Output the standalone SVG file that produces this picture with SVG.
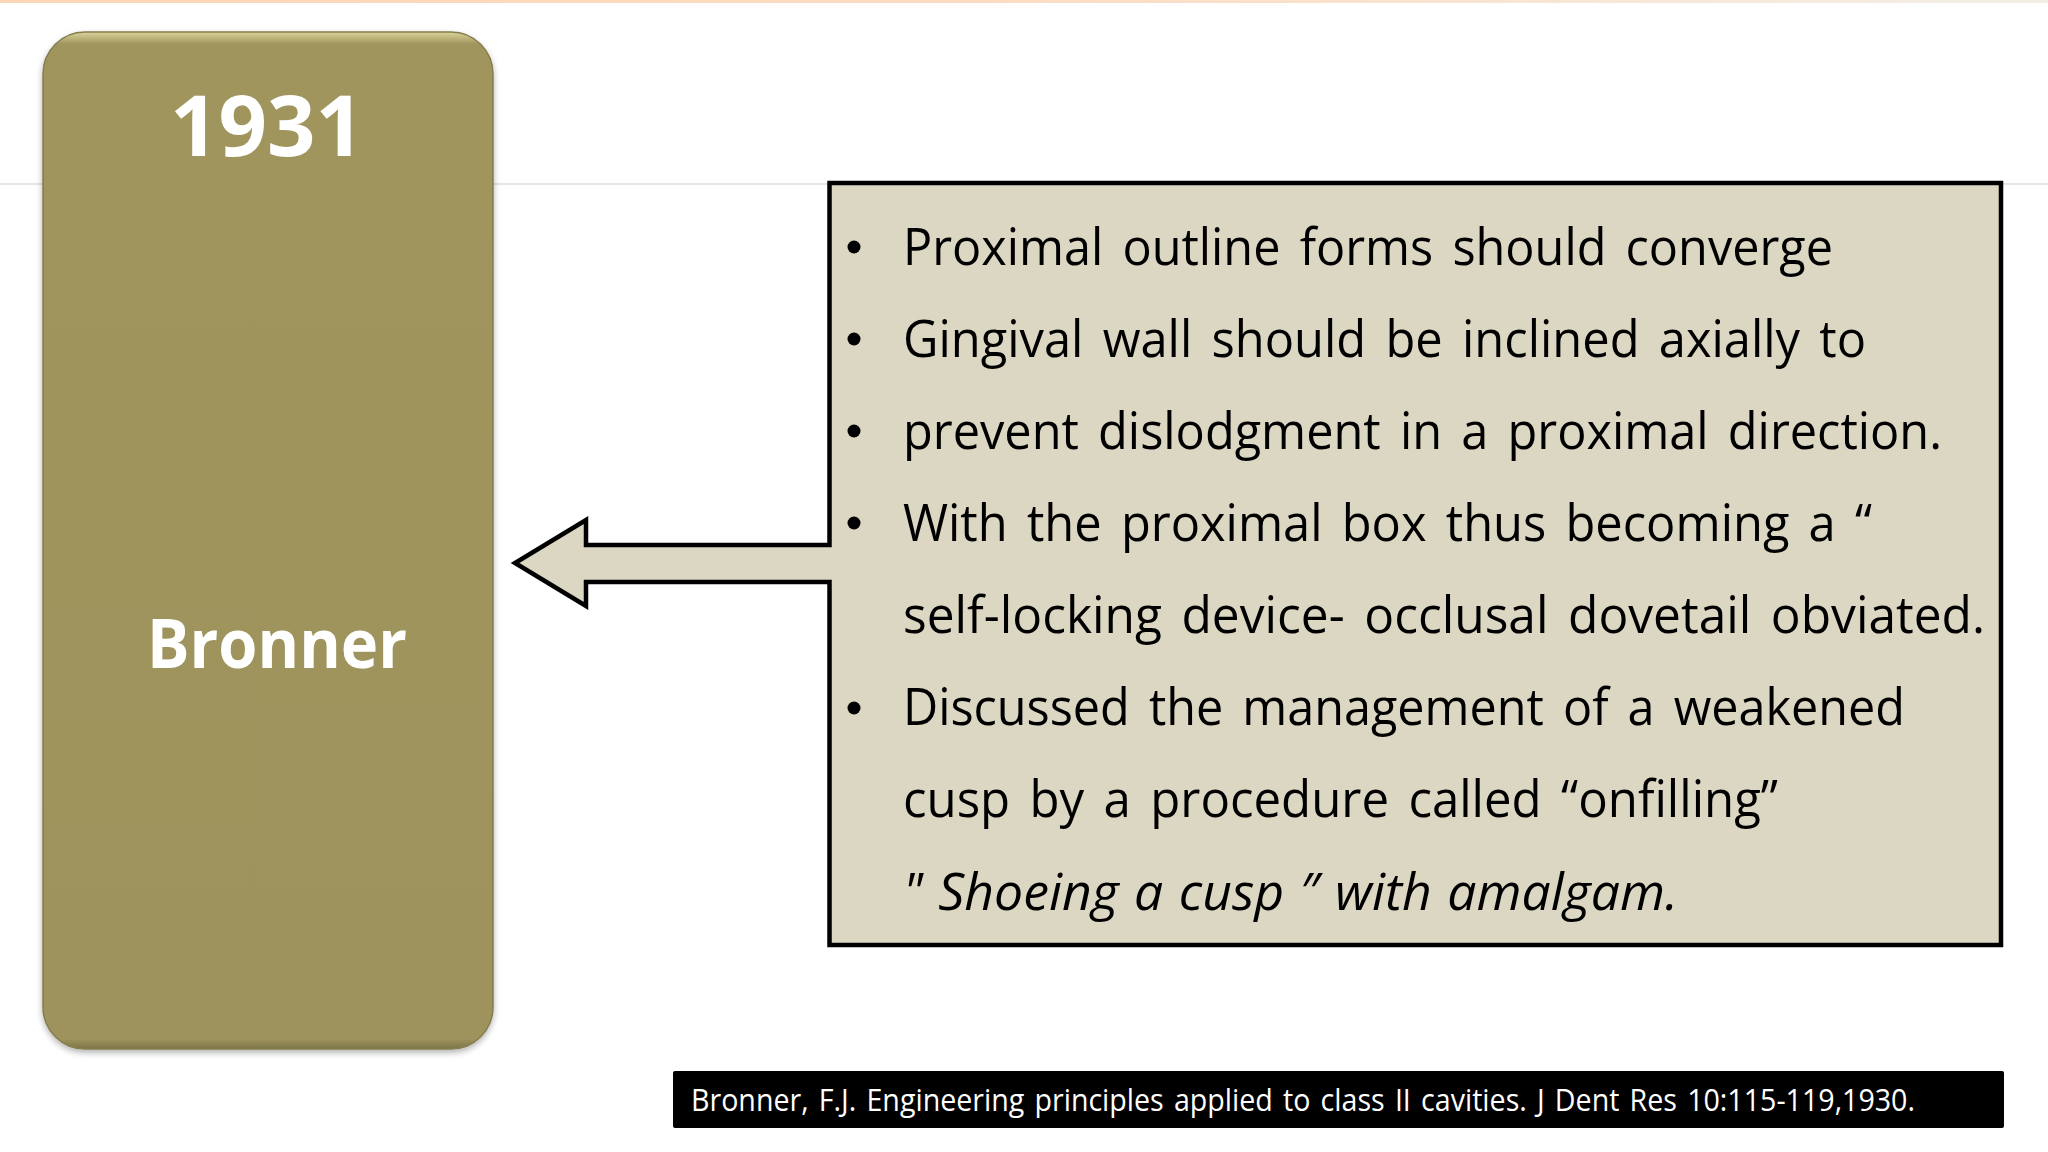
<svg xmlns="http://www.w3.org/2000/svg" width="2048" height="1152" viewBox="0 0 2048 1152">
<defs>
<linearGradient id="strip" x1="0" x2="1" y1="0" y2="0"><stop offset="0" stop-color="#fbd6b6"/><stop offset="0.5" stop-color="#fddcc2"/><stop offset="1" stop-color="#f3efe6"/></linearGradient>
<linearGradient id="edge" x1="0" x2="0" y1="0" y2="1"><stop offset="0" stop-color="#d9d39a"/><stop offset="0.012" stop-color="#a0955d"/><stop offset="0.99" stop-color="#9e935c"/><stop offset="1" stop-color="#7d7549"/></linearGradient>
<filter id="sh" x="-10%" y="-5%" width="120%" height="110%"><feDropShadow dx="0" dy="3" stdDeviation="3" flood-color="#000" flood-opacity="0.3"/></filter>
</defs>
<style>
text{font-family:"Open Sans","Noto Sans","Liberation Sans",sans-serif}
.b{font-size:52px;fill:#000;word-spacing:7px}
.bl{fill:#000}
.w{fill:#fff;font-weight:700;text-anchor:middle}
</style>
<rect width="2048" height="1152" fill="#fff"/>
<rect width="2048" height="3" fill="url(#strip)"/>
<rect y="183" width="2048" height="2" fill="#e3e7e8"/>
<g id="node-bronner">
<rect x="43" y="32" width="450" height="1017" rx="42" fill="url(#edge)" stroke="#857d4e" stroke-width="1.5" filter="url(#sh)"/>
<text class="w" x="267" y="156" font-size="85" textLength="194" lengthAdjust="spacingAndGlyphs">1931</text>
<text class="w" x="277" y="668" font-size="68" textLength="260" lengthAdjust="spacingAndGlyphs">Bronner</text>
</g>
<g id="connectors">
<path id="callout" d="M829.500 183H2001V945H829.500V582H586V606L515 563L586 520V545H829.500Z" fill="#dcd7c2" stroke="#000" stroke-width="4.500" stroke-linejoin="miter"/>
</g>
<g id="node-notes">
<g class="bl"><circle cx="854" cy="247" r="6.500"/><circle cx="854" cy="339" r="6.500"/><circle cx="854" cy="431" r="6.500"/><circle cx="854" cy="523" r="6.500"/><circle cx="854" cy="708" r="6.500"/></g>
<text class="b" x="903" y="265" textLength="930" lengthAdjust="spacingAndGlyphs">Proximal outline forms should converge</text>
<text class="b" x="903" y="357" textLength="963" lengthAdjust="spacingAndGlyphs">Gingival wall should be inclined axially to</text>
<text class="b" x="903" y="449" textLength="1039" lengthAdjust="spacingAndGlyphs">prevent dislodgment in a proximal direction.</text>
<text class="b" x="903" y="541" textLength="969" lengthAdjust="spacingAndGlyphs">With the proximal box thus becoming a “</text>
<text class="b" x="903" y="633" textLength="1082" lengthAdjust="spacingAndGlyphs">self-locking device- occlusal dovetail obviated.</text>
<text class="b" x="903" y="725" textLength="1002" lengthAdjust="spacingAndGlyphs">Discussed the management of a weakened</text>
<text class="b" x="903" y="817" textLength="875" lengthAdjust="spacingAndGlyphs">cusp by a procedure called “onfilling”</text>
<text class="b" x="903" y="910" font-style="italic" style="word-spacing:2px" textLength="775" lengthAdjust="spacingAndGlyphs">" Shoeing a cusp ″ with amalgam.</text>
</g>
<g id="node-citation">
<rect x="673" y="1071" width="1331" height="57" rx="2" fill="#000"/>
<text x="691" y="1111" font-size="31" fill="#fff" word-spacing="3" textLength="1224" lengthAdjust="spacingAndGlyphs">Bronner, F.J. Engineering principles applied to class II cavities. J Dent Res 10:115-119,1930.</text>
</g>
</svg>
